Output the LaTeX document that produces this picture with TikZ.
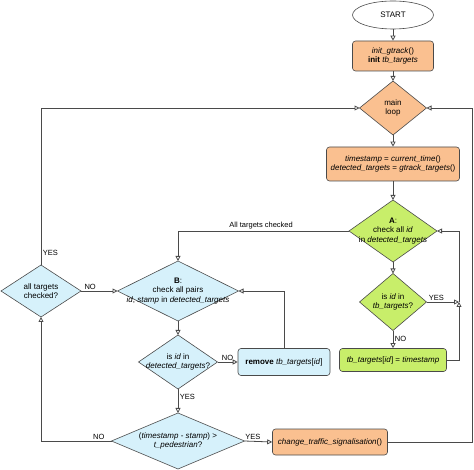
\documentclass[tikz,border=0pt]{standalone}
\usepackage{fontspec}
\setmainfont{Liberation Sans}
\usetikzlibrary{shapes.geometric,arrows.meta}
\definecolor{flowor}{HTML}{FAC090}
\definecolor{flowgr}{HTML}{C8EE6A}
\definecolor{flowbl}{HTML}{D6F1FB}
\definecolor{flowln}{HTML}{4A4A4A}
\begin{document}
\begin{tikzpicture}[x=1pt,y=-1pt,
    font=\fontsize{8}{9.5}\selectfont,
    box/.style={draw=flowln, rounded corners=3pt, align=center, inner sep=0pt, line width=0.6pt},
    dec/.style={draw=flowln, diamond, inner sep=0pt, outer sep=0pt, line width=0.6pt},
    txt/.style={align=center, inner sep=0pt},
    wire/.style={draw=flowln, line width=0.8pt},
    arr/.style={wire, -{Triangle[open, length=5pt, width=5pt]}},
    lbl/.style={inner sep=1.5pt, font=\fontsize{7.5}{9}\selectfont}]
                    \useasboundingbox (0,0) rectangle (474,470);
                    \node[draw=flowln, fill=white, ellipse, line width=0.6pt, minimum width=81pt, minimum height=28pt, inner sep=0pt] (start) at (393,15) {START};
                    \node[box, fill=flowor, minimum width=81pt, minimum height=30pt] (init) at (393,56) {\textit{init\_gtrack}()\\\textbf{init} \textit{tb\_targets}};
                    \node[dec, fill=flowor, minimum width=67pt, minimum height=54pt, label={[txt]center:{main\\loop}}] (loop) at (393,108) {};
                    \node[box, fill=flowor, minimum width=133pt, minimum height=34pt] (ts) at (393,164) {\textit{timestamp} = \textit{current\_time}()\\\textit{detected\_targets} = \textit{gtrack\_targets}()};
                    \node[dec, fill=flowgr, minimum width=88pt, minimum height=62pt, label={[txt]center:{\textbf{A}:\\check all \textit{id}\\in \textit{detected\_targets}}}] (A) at (393,231) {};
                    \node[dec, fill=flowgr, minimum width=67pt, minimum height=57pt, label={[txt]center:{is \textit{id} in\\\textit{tb\_targets}?}}] (isT) at (393,302) {};
                    \node[box, fill=flowgr, minimum width=107pt, minimum height=23pt] (tbT) at (393,360) {\textit{tb\_targets}[\textit{id}] = \textit{timestamp}};
                    \node[dec, fill=flowbl, minimum width=121pt, minimum height=60pt, label={[txt]center:{\textbf{B}:\\check all pairs\\\textit{id}, \textit{stamp} in \textit{detected\_targets}}}] (B) at (178,291) {};
                    \node[dec, fill=flowbl, minimum width=80pt, minimum height=52pt, label={[txt]center:{all targets\\checked?}}] (allc) at (41,291) {};
                    \node[dec, fill=flowbl, minimum width=79pt, minimum height=54pt, label={[txt]center:{is \textit{id} in\\\textit{detected\_targets}?}}] (isD) at (178,362) {};
                    \node[box, fill=flowbl, minimum width=92pt, minimum height=27pt] (rem) at (284,362) {\textbf{remove} \textit{tb\_targets}[\textit{id}]};
                    \node[dec, fill=flowbl, minimum width=133pt, minimum height=56pt, label={[txt]center:{(\textit{timestamp} - \textit{stamp}) >\\\textit{t\_pedestrian}?}}] (tp) at (178,441) {};
                    \node[box, fill=flowor, minimum width=115pt, minimum height=26pt] (chg) at (330,442) {\textit{change\_traffic\_signalisation}()};
                    \coordinate (jr) at (459,302);
                    \coordinate (rr) at (472,442);
                    \draw[arr] (start) -- (init);
                    \draw[arr] (init) -- (loop);
                    \draw[arr] (loop) -- (ts);
                    \draw[arr] (ts) -- (A);
                    \draw[arr] (A) -- (isT);
                    \draw[arr] (isT) -- (tbT) node[lbl, pos=0.45, right] {NO};
                    \draw[arr] (isT.east) -- (jr) node[lbl, pos=0.3, above] {YES};
                    \draw[arr] (tbT.east) -| (jr);
                    \draw[arr] (jr) |- (A.east);
                    \draw[arr] (A.west) -| (B.north) node[lbl, pos=0.257, above] {All targets checked};
                    \draw[arr] (allc.east) -- (B.west) node[lbl, pos=0.25, above] {NO};
                    \draw[arr] (allc.north) |- (loop.west) node[lbl, pos=0.04, right] {YES};
                    \draw[arr] (B) -- (isD);
                    \draw[arr] (isD.east) -- (rem.west) node[lbl, pos=0.5, above] {NO};
                    \draw[arr] (rem.north) |- (B.east);
                    \draw[arr] (isD) -- (tp) node[lbl, pos=0.35, right] {YES};
                    \draw[arr] (tp.east) -- (chg.west) node[lbl, pos=0.3, above] {YES};
                    \draw[arr] (tp.west) -| (allc.south) node[lbl, pos=0.09, above] {NO};
                    \draw[arr] (chg.east) -- (rr) |- (loop.east);
                \end{tikzpicture}
\end{document}
